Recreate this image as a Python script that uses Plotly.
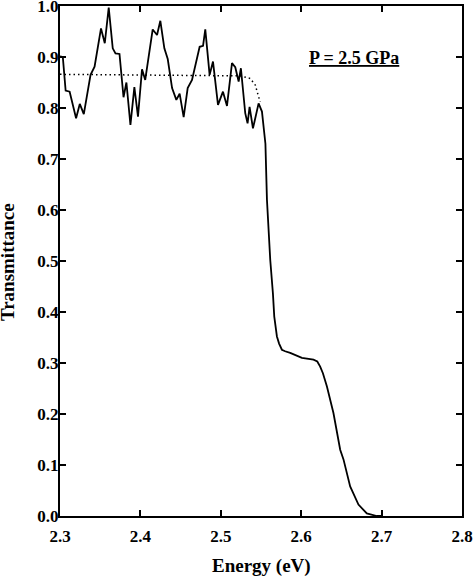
import plotly.graph_objects as go

energy = [
    2.300, 2.3035, 2.307, 2.312, 2.320, 2.3246, 2.3296, 2.338, 2.343, 2.351,
    2.3557, 2.3606, 2.3656, 2.369, 2.374, 2.379, 2.3826, 2.3876, 2.3925, 2.397,
    2.402, 2.406, 2.4153, 2.4207, 2.4248, 2.4298, 2.434, 2.4394, 2.4447, 2.4488,
    2.4538, 2.4588, 2.4642, 2.4737, 2.4779, 2.4807, 2.4861, 2.4903, 2.4965, 2.5027,
    2.5077, 2.5139, 2.518, 2.5222, 2.525, 2.5304, 2.5333, 2.5358, 2.540, 2.547,
    2.5512, 2.5555, 2.5574, 2.5595, 2.5615, 2.5648, 2.5665, 2.5698, 2.5725, 2.576,
    2.580, 2.5863, 2.6009, 2.6153, 2.620, 2.6236, 2.627, 2.632, 2.6401, 2.6485,
    2.6526, 2.6609, 2.6712, 2.6816, 2.694, 2.700,
]
transmittance = [
    0.901, 0.900, 0.834, 0.832, 0.780, 0.808, 0.788, 0.865, 0.881, 0.956,
    0.927, 0.997, 0.917, 0.907, 0.906, 0.821, 0.850, 0.767, 0.841, 0.783,
    0.876, 0.855, 0.954, 0.943, 0.971, 0.917, 0.896, 0.839, 0.816, 0.828,
    0.782, 0.839, 0.855, 0.920, 0.922, 0.954, 0.865, 0.891, 0.806, 0.832,
    0.804, 0.888, 0.880, 0.852, 0.878, 0.790, 0.770, 0.802, 0.760, 0.809,
    0.793, 0.730, 0.620, 0.555, 0.502, 0.437, 0.391, 0.352, 0.338, 0.326,
    0.323, 0.320, 0.310, 0.3066, 0.303, 0.293, 0.280, 0.254, 0.202, 0.130,
    0.111, 0.058, 0.0225, 0.005, 0.0, 0.0,
]

# dotted fit line
fit_energy = [2.300, 2.5242, 2.5366, 2.5429, 2.547, 2.549]
fit_trans = [0.866, 0.863, 0.858, 0.845, 0.822, 0.812]

x_ticks = [2.3, 2.4, 2.5, 2.6, 2.7, 2.8]
y_ticks = [0.0, 0.1, 0.2, 0.3, 0.4, 0.5, 0.6, 0.7, 0.8, 0.9, 1.0]

FONT = "Liberation Serif"

fig = go.Figure()

fig.add_trace(go.Scatter(
    x=fit_energy, y=fit_trans, mode="lines",
    line=dict(color="black", width=1.5, dash="1.5px,3px"),
    hoverinfo="skip",
))
fig.add_trace(go.Scatter(
    x=energy, y=transmittance, mode="lines",
    line=dict(color="black", width=1.8),
))

fig.add_annotation(
    x=0.732, y=0.898, xref="paper", yref="paper",
    xanchor="center", yanchor="middle",
    text="<b><u>P = 2.5 GPa</u></b>", showarrow=False,
    font=dict(family=FONT, size=18, color="black"),
)

# axis titles as annotations so they sit where the original has them
fig.add_annotation(
    x=0.5, y=-0.098, xref="paper", yref="paper",
    xanchor="center", yanchor="middle",
    text="<b>Energy (eV)</b>", showarrow=False,
    font=dict(family=FONT, size=19, color="black"),
)
fig.add_annotation(
    x=-0.1304, y=0.497, xref="paper", yref="paper",
    xanchor="center", yanchor="middle", textangle=-90,
    text="<b>Transmittance</b>", showarrow=False,
    font=dict(family=FONT, size=19, color="black"),
)

axis_common = dict(
    showline=True, linecolor="black", linewidth=2, mirror="ticks",
    ticks="inside", ticklen=6, tickwidth=1.5, tickcolor="black",
    showgrid=False, zeroline=False, automargin=False,
    ticklabeloverflow="allow",
    tickfont=dict(family=FONT, size=17, color="black"),
)

fig.update_xaxes(
    range=[2.3, 2.8], tickvals=x_ticks,
    ticktext=[f"<b>{v:.1f}</b>" for v in x_ticks],
    ticklabelstandoff=4,
    **axis_common,
)
fig.update_yaxes(
    range=[0, 1.0], tickvals=y_ticks,
    ticktext=[f"<b>{v:.1f}</b>" for v in y_ticks],
    ticklabelstandoff=-4,
    **axis_common,
)

fig.update_layout(
    width=474, height=577,
    margin=dict(l=59.5, r=12, t=6, b=60.5),
    plot_bgcolor="white", paper_bgcolor="white",
    showlegend=False,
)

# the page's default body margin would shift the figure by 8px
fig.write_html(
    "out.html",
    config={"displayModeBar": False},
    post_script="document.body.style.margin='0';",
)
